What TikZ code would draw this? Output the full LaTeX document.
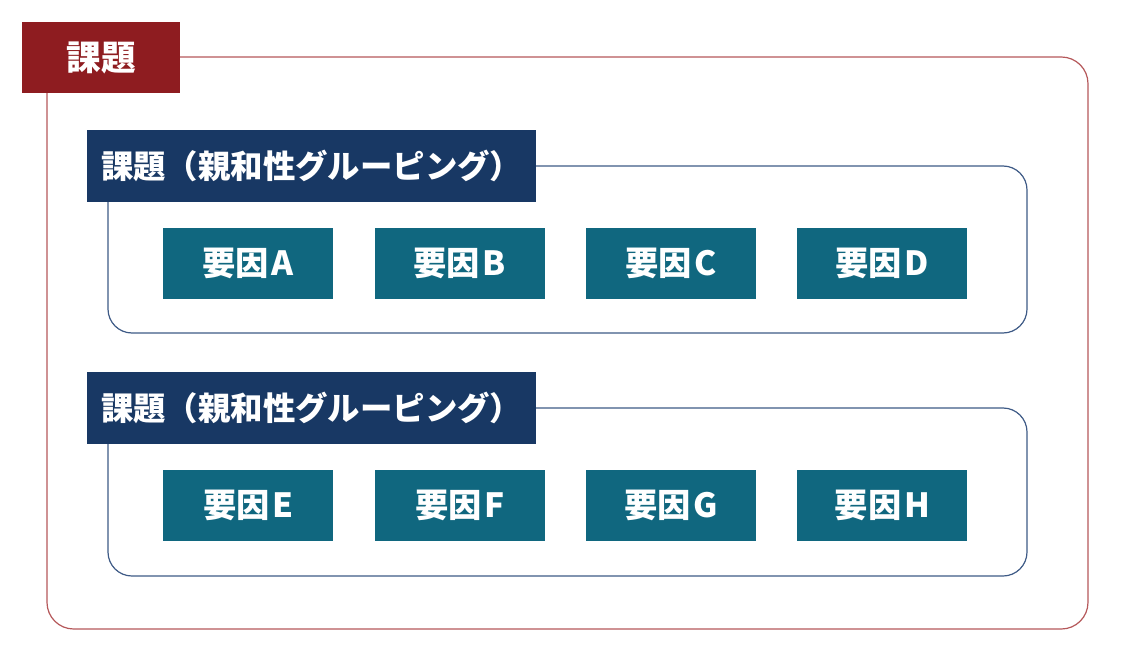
\documentclass[tikz,border=0pt]{standalone}
\usepackage{fontspec}
\setmainfont{Noto Sans CJK JP}
\usepackage{tikz}
\definecolor{kadaired}{HTML}{8E1C20}
\definecolor{kadailine}{HTML}{B5585A}
\definecolor{groupnavy}{HTML}{183864}
\definecolor{groupline}{HTML}{3E5A86}
\definecolor{factorteal}{HTML}{10677F}
\tikzset{
  kadai/.style={fill=kadaired,text=white,font=\bfseries\fontsize{26}{26}\selectfont,
    minimum width=118.5pt,minimum height=53.25pt,anchor=north west,inner sep=0pt},
  group/.style={fill=groupnavy,text=white,font=\bfseries\fontsize{24.3}{25}\selectfont,
    minimum width=336.75pt,minimum height=54pt,anchor=north west,inner sep=0pt},
  factor/.style={fill=factorteal,text=white,font=\bfseries\fontsize{25}{25}\selectfont,
    minimum width=127.5pt,minimum height=53.25pt,anchor=north west,inner sep=0pt},
  frame/.style={rounded corners=18pt,line width=0.9pt}
}
\newcommand{\groupname}{課題（親和性グルーピング）}
\newcommand{\factorname}[1]{要因\hspace{2pt}#1}

\begin{document}
\begin{tikzpicture}[x=0.75pt,y=-0.75pt]
  \useasboundingbox (0,0) rectangle (1125,667);

  % outer frame
  \draw[frame,kadailine,rounded corners=20pt] (47,57) rectangle (1088,629);
  \node[kadai] (kadai) at (22,22) {課題};

  % groups
  \draw[frame,groupline] (108,166) rectangle (1027,333);
  \draw[frame,groupline] (108,408) rectangle (1027,576);
  \node[group] (g1) at (87,130) {\groupname};
  \node[group] (g2) at (87,372) {\groupname};

  % factors
  \node[factor] (fa) at (163,228) {\factorname{A}};
  \node[factor] (fb) at (374.5,228) {\factorname{B}};
  \node[factor] (fc) at (586,228) {\factorname{C}};
  \node[factor] (fd) at (797,228) {\factorname{D}};
  \node[factor] (fe) at (163,470) {\factorname{E}};
  \node[factor] (ff) at (374.5,470) {\factorname{F}};
  \node[factor] (fg) at (586,470) {\factorname{G}};
  \node[factor] (fh) at (797,470) {\factorname{H}};
\end{tikzpicture}
\end{document}
